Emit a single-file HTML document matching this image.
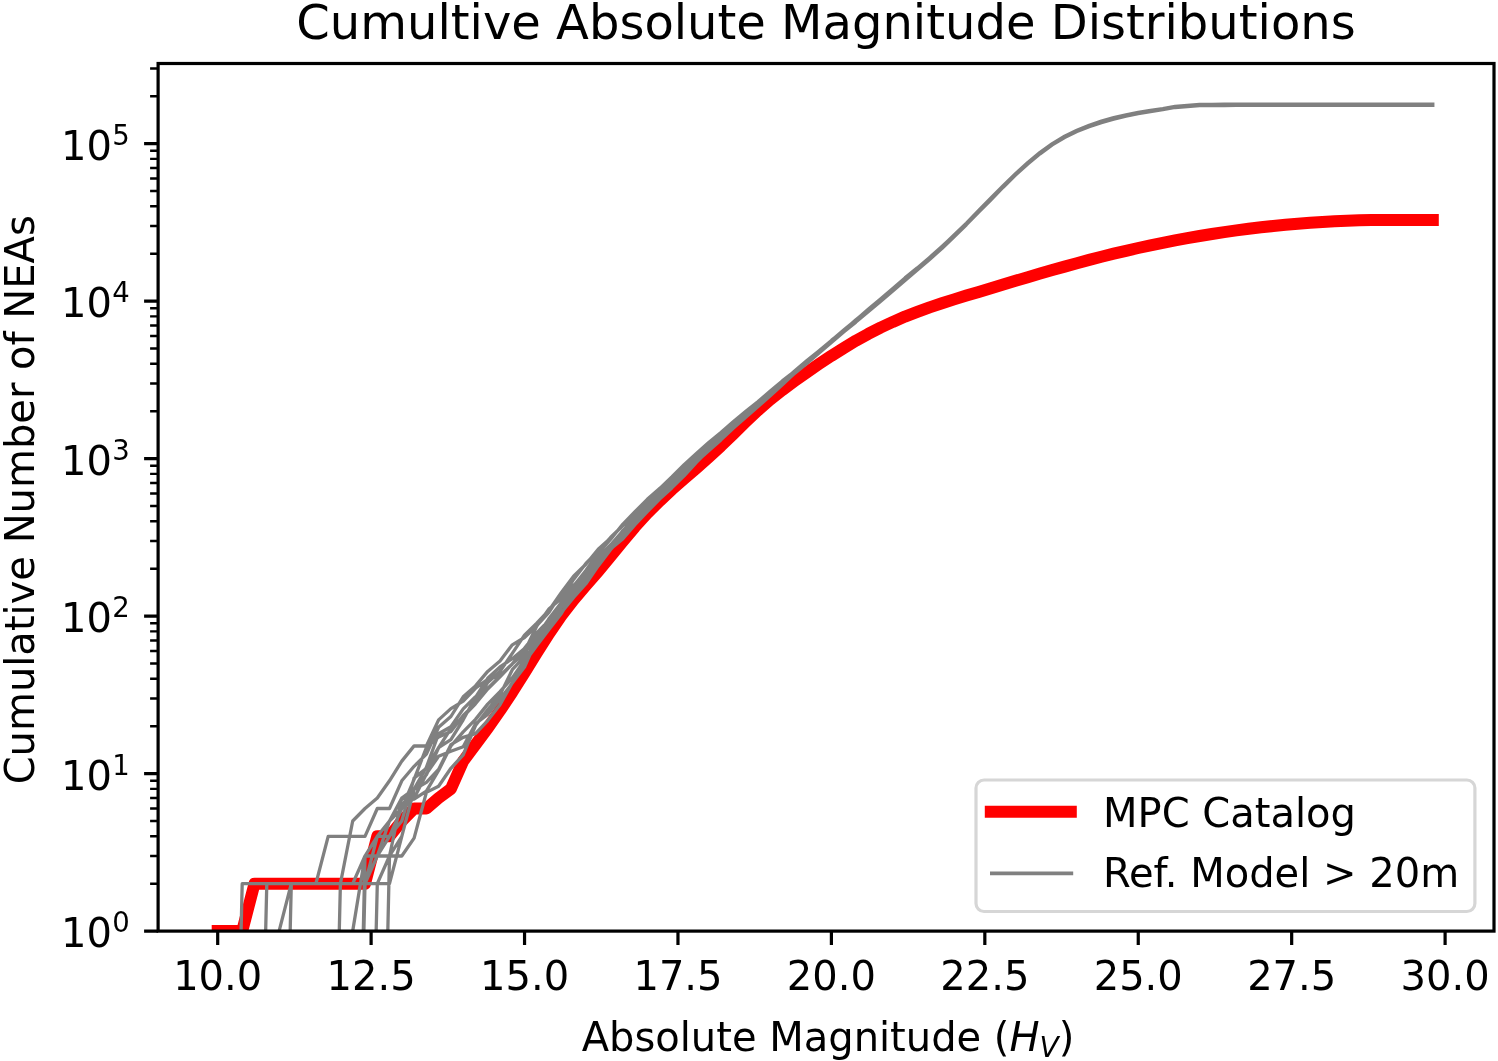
<!DOCTYPE html>
<html><head><meta charset="utf-8"><title>Cumultive Absolute Magnitude Distributions</title>
<style>html,body{margin:0;padding:0;background:#fff;}svg{display:block;}</style>
</head><body>
<svg width="1498" height="1061" viewBox="0 0 1498 1061" font-family="&quot;DejaVu Sans&quot;, &quot;Liberation Sans&quot;, sans-serif"><defs><clipPath id="ax"><rect x="158.1" y="63.5" width="1335.9" height="867.6"/></clipPath></defs>
<g clip-path="url(#ax)"><path d="M217.7 931.1L230.0 931.1L242.2 931.1L254.5 883.7L266.8 883.7L279.1 883.7L291.3 883.7L303.6 883.7L315.9 883.7L328.2 883.7L340.4 883.7L352.7 883.7L365.0 883.7L377.3 836.3L389.5 836.3L401.8 821.0L414.1 808.5L426.4 808.5L438.6 798.0L450.9 788.9L463.2 761.1L475.5 744.7L487.7 728.1L500.0 710.6L512.3 692.1L524.5 672.8L536.8 652.9L549.1 633.5L561.4 615.7L573.6 599.9L585.9 585.4L598.2 571.2L610.5 556.5L622.7 541.4L635.0 526.8L647.3 513.3L659.6 501.0L671.8 489.6L684.1 478.7L696.4 468.1L708.7 457.2L720.9 446.0L733.2 434.1L745.5 422.0L757.8 410.4L770.0 399.8L782.3 390.1L794.6 381.0L806.9 372.3L819.1 363.9L831.4 355.8L843.7 348.1L855.9 340.7L868.2 333.9L880.5 327.6L892.8 321.9L905.0 316.6L917.3 311.9L929.6 307.4L941.9 303.3L954.1 299.4L966.4 295.6L978.7 291.9L991.0 288.2L1003.2 284.5L1015.5 280.8L1027.8 277.2L1040.1 273.6L1052.3 270.0L1064.6 266.6L1076.9 263.2L1089.2 259.9L1101.4 256.7L1113.7 253.7L1126.0 250.8L1138.2 248.0L1150.5 245.3L1162.8 242.8L1175.1 240.4L1187.3 238.1L1199.6 236.0L1211.9 234.0L1224.2 232.1L1236.4 230.4L1248.7 228.8L1261.0 227.3L1273.3 226.0L1285.5 224.8L1297.8 223.7L1310.1 222.8L1322.4 222.0L1334.6 221.3L1346.9 220.7L1359.2 220.3L1371.5 220.1L1383.7 219.9L1396.0 219.9L1408.3 219.9L1420.6 219.9L1432.8 219.9" fill="none" stroke="#f00" stroke-width="12" stroke-linejoin="round" stroke-linecap="square"/>
<path d="M217.7 1400.0L230.0 1400.0L242.2 883.7L254.5 883.7L266.8 883.7L279.1 883.7L291.3 883.7L303.6 883.7L315.9 883.7L328.2 836.3L340.4 836.3L352.7 836.3L365.0 836.3L377.3 808.5L389.5 808.5L401.8 780.8L414.1 766.3L426.4 754.1L438.6 727.3L450.9 716.5L463.2 696.8L475.5 685.9L487.7 671.4L500.0 660.9L512.3 644.8L524.5 637.5L536.8 625.7L549.1 612.1L561.4 593.2L573.6 586.1L585.9 572.8L598.2 560.1L610.5 545.1L622.7 531.0L635.0 517.3L647.3 503.5L659.6 491.6L671.8 477.6L684.1 466.1L696.4 454.9L708.7 443.0L720.9 432.6L733.2 422.2L745.5 412.2L757.8 402.0L770.0 391.5L782.3 381.9L794.6 371.3L806.9 361.0L819.1 351.1L831.4 340.9L843.7 330.6L855.9 320.3L868.2 309.8L880.5 299.2L892.8 289.3L905.0 278.9L917.3 268.9L929.6 258.8L941.9 247.9L954.1 236.4L966.4 224.2L978.7 211.8L991.0 199.3L1003.2 186.8L1015.5 175.0L1027.8 163.7L1040.1 153.4L1052.3 144.6L1064.6 137.3L1076.9 131.2L1089.2 126.3L1101.4 122.2L1113.7 118.8L1126.0 115.8L1138.2 113.3L1150.5 111.3L1162.8 109.5L1175.1 107.3L1187.3 106.2L1199.6 105.5L1211.9 105.2L1224.2 105.2L1236.4 105.1L1248.7 105.1L1261.0 105.1L1273.3 105.1L1285.5 105.1L1297.8 105.1L1310.1 105.1L1322.4 105.1L1334.6 105.1L1346.9 105.1L1359.2 105.1L1371.5 105.1L1383.7 105.1L1396.0 105.1L1408.3 105.1L1420.6 105.1L1432.8 105.1M217.7 1400.0L230.0 1400.0L242.2 1400.0L254.5 1400.0L266.8 883.7L279.1 883.7L291.3 883.7L303.6 883.7L315.9 883.7L328.2 883.7L340.4 883.7L352.7 883.7L365.0 883.7L377.3 836.3L389.5 821.0L401.8 808.5L414.1 779.3L426.4 747.6L438.6 737.0L450.9 731.4L463.2 715.5L475.5 703.5L487.7 682.5L500.0 671.4L512.3 653.4L524.5 635.1L536.8 623.1L549.1 610.1L561.4 592.5L573.6 576.3L585.9 564.3L598.2 549.3L610.5 538.1L622.7 525.7L635.0 514.5L647.3 501.1L659.6 488.6L671.8 478.2L684.1 467.0L696.4 456.1L708.7 445.3L720.9 435.8L733.2 425.8L745.5 414.6L757.8 403.2L770.0 392.8L782.3 382.1L794.6 372.1L806.9 362.1L819.1 351.8L831.4 341.5L843.7 331.4L855.9 321.2L868.2 310.6L880.5 300.4L892.8 290.3L905.0 279.8L917.3 269.8L929.6 259.4L941.9 248.5L954.1 236.8L966.4 224.7L978.7 212.0L991.0 199.5L1003.2 186.7L1015.5 174.9L1027.8 163.7L1040.1 153.4L1052.3 144.5L1064.6 137.1L1076.9 131.0L1089.2 126.1L1101.4 122.1L1113.7 118.8L1126.0 115.8L1138.2 113.2L1150.5 111.1L1162.8 109.4L1175.1 107.2L1187.3 106.2L1199.6 105.4L1211.9 105.2L1224.2 105.2L1236.4 105.1L1248.7 105.1L1261.0 105.1L1273.3 105.1L1285.5 105.1L1297.8 105.1L1310.1 105.1L1322.4 105.1L1334.6 105.1L1346.9 105.1L1359.2 105.1L1371.5 105.1L1383.7 105.1L1396.0 105.1L1408.3 105.1L1420.6 105.1L1432.8 105.1M217.7 1400.0L230.0 1400.0L242.2 1400.0L254.5 1400.0L266.8 1400.0L279.1 931.1L291.3 883.7L303.6 883.7L315.9 883.7L328.2 883.7L340.4 883.7L352.7 883.7L365.0 856.0L377.3 856.0L389.5 836.3L401.8 821.0L414.1 778.1L426.4 768.2L438.6 747.5L450.9 739.7L463.2 719.8L475.5 697.3L487.7 678.3L500.0 666.9L512.3 658.7L524.5 648.6L536.8 636.3L549.1 618.6L561.4 603.5L573.6 586.1L585.9 570.4L598.2 553.2L610.5 539.5L622.7 524.3L635.0 511.7L647.3 499.3L659.6 488.6L671.8 477.0L684.1 464.7L696.4 453.5L708.7 442.6L720.9 432.6L733.2 421.8L745.5 411.6L757.8 401.7L770.0 391.2L782.3 380.9L794.6 371.4L806.9 361.6L819.1 350.9L831.4 341.1L843.7 330.5L855.9 320.4L868.2 310.7L880.5 300.6L892.8 290.0L905.0 279.6L917.3 269.2L929.6 258.7L941.9 247.9L954.1 236.3L966.4 224.3L978.7 211.8L991.0 199.2L1003.2 186.8L1015.5 174.9L1027.8 163.7L1040.1 153.4L1052.3 144.8L1064.6 137.5L1076.9 131.5L1089.2 126.6L1101.4 122.6L1113.7 119.2L1126.0 116.2L1138.2 113.6L1150.5 111.5L1162.8 109.7L1175.1 107.5L1187.3 106.5L1199.6 105.7L1211.9 105.5L1224.2 105.5L1236.4 105.4L1248.7 105.4L1261.0 105.4L1273.3 105.4L1285.5 105.4L1297.8 105.4L1310.1 105.4L1322.4 105.4L1334.6 105.4L1346.9 105.4L1359.2 105.4L1371.5 105.4L1383.7 105.4L1396.0 105.4L1408.3 105.4L1420.6 105.4L1432.8 105.4M217.7 1400.0L230.0 1400.0L242.2 1400.0L254.5 1400.0L266.8 1400.0L279.1 1400.0L291.3 883.7L303.6 883.7L315.9 883.7L328.2 883.7L340.4 883.7L352.7 883.7L365.0 883.7L377.3 856.0L389.5 821.0L401.8 798.0L414.1 799.1L426.4 791.1L438.6 770.5L450.9 746.0L463.2 731.8L475.5 719.4L487.7 704.1L500.0 691.6L512.3 677.9L524.5 660.2L536.8 640.5L549.1 618.4L561.4 602.6L573.6 591.4L585.9 577.9L598.2 565.3L610.5 547.9L622.7 536.3L635.0 521.3L647.3 507.6L659.6 496.9L671.8 485.1L684.1 473.1L696.4 461.7L708.7 450.8L720.9 439.9L733.2 428.2L745.5 417.5L757.8 406.8L770.0 396.0L782.3 384.7L794.6 373.4L806.9 361.2L819.1 350.8L831.4 341.0L843.7 330.5L855.9 319.7L868.2 309.9L880.5 300.1L892.8 289.2L905.0 278.7L917.3 268.3L929.6 257.8L941.9 247.0L954.1 235.6L966.4 223.5L978.7 210.9L991.0 198.3L1003.2 185.8L1015.5 173.8L1027.8 162.5L1040.1 152.4L1052.3 143.6L1064.6 136.3L1076.9 130.3L1089.2 125.4L1101.4 121.4L1113.7 118.1L1126.0 115.1L1138.2 112.6L1150.5 110.5L1162.8 108.7L1175.1 106.5L1187.3 105.6L1199.6 104.8L1211.9 104.6L1224.2 104.5L1236.4 104.5L1248.7 104.5L1261.0 104.5L1273.3 104.5L1285.5 104.5L1297.8 104.5L1310.1 104.5L1322.4 104.5L1334.6 104.5L1346.9 104.5L1359.2 104.5L1371.5 104.5L1383.7 104.5L1396.0 104.5L1408.3 104.5L1420.6 104.5L1432.8 104.5M217.7 1400.0L230.0 1400.0L242.2 1400.0L254.5 1400.0L266.8 1400.0L279.1 1400.0L291.3 1400.0L303.6 1400.0L315.9 1400.0L328.2 1400.0L340.4 883.7L352.7 821.0L365.0 808.5L377.3 798.0L389.5 780.8L401.8 761.1L414.1 745.9L426.4 746.0L438.6 719.9L450.9 708.6L463.2 701.2L475.5 688.3L487.7 679.2L500.0 675.8L512.3 663.9L524.5 651.4L536.8 626.0L549.1 608.7L561.4 598.5L573.6 579.4L585.9 563.4L598.2 551.0L610.5 537.5L622.7 525.7L635.0 516.5L647.3 504.2L659.6 493.6L671.8 481.9L684.1 471.0L696.4 458.6L708.7 447.2L720.9 437.3L733.2 426.1L745.5 415.3L757.8 404.4L770.0 393.1L782.3 382.3L794.6 371.6L806.9 361.5L819.1 350.8L831.4 340.4L843.7 330.5L855.9 320.1L868.2 309.8L880.5 299.5L892.8 289.2L905.0 278.7L917.3 268.4L929.6 257.8L941.9 246.5L954.1 235.2L966.4 223.5L978.7 211.0L991.0 198.4L1003.2 186.1L1015.5 174.1L1027.8 162.9L1040.1 152.9L1052.3 143.8L1064.6 136.5L1076.9 130.3L1089.2 125.4L1101.4 121.4L1113.7 118.0L1126.0 115.1L1138.2 112.6L1150.5 110.5L1162.8 108.7L1175.1 106.5L1187.3 105.5L1199.6 104.8L1211.9 104.5L1224.2 104.5L1236.4 104.4L1248.7 104.4L1261.0 104.4L1273.3 104.4L1285.5 104.4L1297.8 104.4L1310.1 104.4L1322.4 104.4L1334.6 104.4L1346.9 104.4L1359.2 104.4L1371.5 104.4L1383.7 104.4L1396.0 104.4L1408.3 104.4L1420.6 104.4L1432.8 104.4M217.7 1400.0L230.0 1400.0L242.2 1400.0L254.5 1400.0L266.8 1400.0L279.1 1400.0L291.3 1400.0L303.6 1400.0L315.9 1400.0L328.2 1400.0L340.4 1400.0L352.7 931.1L365.0 856.0L377.3 836.3L389.5 836.3L401.8 808.5L414.1 798.2L426.4 773.9L438.6 756.2L450.9 751.3L463.2 746.7L475.5 723.7L487.7 714.5L500.0 699.3L512.3 683.1L524.5 667.1L536.8 639.4L549.1 619.7L561.4 605.6L573.6 590.1L585.9 573.3L598.2 557.5L610.5 544.9L622.7 532.5L635.0 518.8L647.3 506.8L659.6 494.9L671.8 482.4L684.1 470.6L696.4 458.7L708.7 447.7L720.9 437.9L733.2 427.6L745.5 417.2L757.8 406.2L770.0 395.1L782.3 383.2L794.6 373.4L806.9 363.4L819.1 353.0L831.4 342.4L843.7 331.9L855.9 322.1L868.2 311.7L880.5 301.5L892.8 291.0L905.0 280.4L917.3 270.0L929.6 259.4L941.9 248.4L954.1 236.9L966.4 224.7L978.7 212.2L991.0 199.8L1003.2 187.2L1015.5 175.1L1027.8 164.0L1040.1 153.8L1052.3 144.8L1064.6 137.4L1076.9 131.5L1089.2 126.5L1101.4 122.5L1113.7 119.0L1126.0 116.1L1138.2 113.6L1150.5 111.5L1162.8 109.7L1175.1 107.5L1187.3 106.5L1199.6 105.7L1211.9 105.5L1224.2 105.4L1236.4 105.4L1248.7 105.4L1261.0 105.4L1273.3 105.4L1285.5 105.4L1297.8 105.4L1310.1 105.4L1322.4 105.4L1334.6 105.4L1346.9 105.4L1359.2 105.4L1371.5 105.4L1383.7 105.4L1396.0 105.4L1408.3 105.4L1420.6 105.4L1432.8 105.4M217.7 1400.0L230.0 1400.0L242.2 1400.0L254.5 1400.0L266.8 1400.0L279.1 1400.0L291.3 1400.0L303.6 1400.0L315.9 1400.0L328.2 1400.0L340.4 1400.0L352.7 1400.0L365.0 1400.0L377.3 1400.0L389.5 856.0L401.8 836.3L414.1 789.7L426.4 782.4L438.6 769.5L450.9 744.7L463.2 737.4L475.5 733.7L487.7 720.6L500.0 704.8L512.3 682.8L524.5 662.3L536.8 645.5L549.1 625.8L561.4 607.0L573.6 591.6L585.9 575.7L598.2 559.8L610.5 546.8L622.7 530.7L635.0 519.2L647.3 507.0L659.6 495.5L671.8 481.9L684.1 469.5L696.4 457.7L708.7 446.0L720.9 434.9L733.2 424.5L745.5 413.4L757.8 402.9L770.0 392.7L782.3 381.9L794.6 371.0L806.9 360.5L819.1 350.7L831.4 340.4L843.7 330.1L855.9 320.0L868.2 309.3L880.5 298.9L892.8 288.4L905.0 277.9L917.3 267.9L929.6 257.4L941.9 246.6L954.1 235.0L966.4 223.1L978.7 210.5L991.0 197.9L1003.2 185.6L1015.5 173.8L1027.8 162.5L1040.1 152.3L1052.3 143.6L1064.6 136.4L1076.9 130.4L1089.2 125.6L1101.4 121.5L1113.7 118.2L1126.0 115.2L1138.2 112.7L1150.5 110.5L1162.8 108.7L1175.1 106.6L1187.3 105.5L1199.6 104.8L1211.9 104.5L1224.2 104.5L1236.4 104.4L1248.7 104.4L1261.0 104.4L1273.3 104.4L1285.5 104.4L1297.8 104.4L1310.1 104.4L1322.4 104.4L1334.6 104.4L1346.9 104.4L1359.2 104.4L1371.5 104.4L1383.7 104.4L1396.0 104.4L1408.3 104.4L1420.6 104.4L1432.8 104.4M217.7 1400.0L230.0 1400.0L242.2 1400.0L254.5 1400.0L266.8 1400.0L279.1 1400.0L291.3 1400.0L303.6 1400.0L315.9 1400.0L328.2 1400.0L340.4 1400.0L352.7 1400.0L365.0 883.7L377.3 883.7L389.5 856.0L401.8 856.0L414.1 838.1L426.4 792.4L438.6 786.2L450.9 768.3L463.2 754.8L475.5 725.5L487.7 709.7L500.0 694.9L512.3 669.7L524.5 656.6L536.8 645.6L549.1 629.2L561.4 613.5L573.6 593.1L585.9 578.6L598.2 564.7L610.5 549.7L622.7 536.5L635.0 524.5L647.3 511.6L659.6 498.9L671.8 487.9L684.1 475.9L696.4 462.3L708.7 450.1L720.9 438.6L733.2 427.5L745.5 416.2L757.8 405.7L770.0 393.5L782.3 382.5L794.6 371.6L806.9 361.0L819.1 350.9L831.4 340.8L843.7 330.5L855.9 320.0L868.2 309.7L880.5 299.6L892.8 289.4L905.0 279.7L917.3 269.7L929.6 258.9L941.9 248.0L954.1 236.5L966.4 224.3L978.7 211.8L991.0 199.3L1003.2 186.9L1015.5 174.9L1027.8 163.6L1040.1 153.4L1052.3 144.5L1064.6 137.0L1076.9 130.9L1089.2 126.1L1101.4 122.0L1113.7 118.7L1126.0 115.7L1138.2 113.2L1150.5 111.0L1162.8 109.2L1175.1 107.1L1187.3 106.1L1199.6 105.3L1211.9 105.0L1224.2 105.0L1236.4 105.0L1248.7 105.0L1261.0 105.0L1273.3 105.0L1285.5 105.0L1297.8 105.0L1310.1 105.0L1322.4 105.0L1334.6 105.0L1346.9 105.0L1359.2 105.0L1371.5 105.0L1383.7 105.0L1396.0 105.0L1408.3 105.0L1420.6 105.0L1432.8 105.0M217.7 1400.0L230.0 1400.0L242.2 1400.0L254.5 1400.0L266.8 1400.0L279.1 1400.0L291.3 1400.0L303.6 1400.0L315.9 1400.0L328.2 1400.0L340.4 1400.0L352.7 1400.0L365.0 856.0L377.3 856.0L389.5 856.0L401.8 798.0L414.1 789.0L426.4 767.3L438.6 733.8L450.9 726.7L463.2 708.9L475.5 696.8L487.7 688.5L500.0 676.1L512.3 664.1L524.5 648.3L536.8 632.9L549.1 620.2L561.4 603.1L573.6 585.4L585.9 573.1L598.2 562.0L610.5 549.1L622.7 538.9L635.0 524.7L647.3 511.7L659.6 499.0L671.8 486.5L684.1 473.4L696.4 460.5L708.7 448.0L720.9 436.7L733.2 424.9L745.5 414.8L757.8 404.2L770.0 393.5L782.3 383.3L794.6 372.1L806.9 360.9L819.1 350.8L831.4 340.9L843.7 330.7L855.9 320.7L868.2 310.2L880.5 300.0L892.8 289.9L905.0 279.5L917.3 269.3L929.6 258.6L941.9 247.3L954.1 235.9L966.4 223.9L978.7 211.6L991.0 198.8L1003.2 186.2L1015.5 174.2L1027.8 162.9L1040.1 152.6L1052.3 143.6L1064.6 136.2L1076.9 130.2L1089.2 125.2L1101.4 121.1L1113.7 117.7L1126.0 114.9L1138.2 112.4L1150.5 110.3L1162.8 108.6L1175.1 106.4L1187.3 105.3L1199.6 104.5L1211.9 104.3L1224.2 104.2L1236.4 104.2L1248.7 104.2L1261.0 104.2L1273.3 104.2L1285.5 104.2L1297.8 104.2L1310.1 104.2L1322.4 104.2L1334.6 104.2L1346.9 104.2L1359.2 104.2L1371.5 104.2L1383.7 104.2L1396.0 104.2L1408.3 104.2L1420.6 104.2L1432.8 104.2M217.7 1400.0L230.0 1400.0L242.2 1400.0L254.5 1400.0L266.8 1400.0L279.1 1400.0L291.3 1400.0L303.6 1400.0L315.9 1400.0L328.2 1400.0L340.4 1400.0L352.7 1400.0L365.0 1400.0L377.3 883.7L389.5 883.7L401.8 836.3L414.1 789.5L426.4 774.8L438.6 747.7L450.9 728.6L463.2 716.7L475.5 703.8L487.7 689.0L500.0 676.8L512.3 663.8L524.5 652.9L536.8 637.0L549.1 627.1L561.4 612.5L573.6 597.4L585.9 583.7L598.2 565.9L610.5 549.7L622.7 531.6L635.0 519.3L647.3 507.2L659.6 493.9L671.8 483.3L684.1 472.1L696.4 460.7L708.7 448.6L720.9 436.7L733.2 424.7L745.5 413.4L757.8 402.9L770.0 392.4L782.3 382.2L794.6 372.2L806.9 361.1L819.1 350.8L831.4 340.6L843.7 330.4L855.9 320.4L868.2 310.1L880.5 299.7L892.8 289.6L905.0 279.3L917.3 269.2L929.6 258.6L941.9 247.9L954.1 236.3L966.4 224.1L978.7 211.9L991.0 199.0L1003.2 186.5L1015.5 174.7L1027.8 163.3L1040.1 153.2L1052.3 144.3L1064.6 137.0L1076.9 130.9L1089.2 126.0L1101.4 121.9L1113.7 118.5L1126.0 115.5L1138.2 113.1L1150.5 110.9L1162.8 109.2L1175.1 107.0L1187.3 106.0L1199.6 105.2L1211.9 105.0L1224.2 104.9L1236.4 104.9L1248.7 104.9L1261.0 104.9L1273.3 104.9L1285.5 104.9L1297.8 104.9L1310.1 104.9L1322.4 104.9L1334.6 104.9L1346.9 104.9L1359.2 104.9L1371.5 104.9L1383.7 104.9L1396.0 104.9L1408.3 104.9L1420.6 104.9L1432.8 104.9" fill="none" stroke="#808080" stroke-width="3.3" stroke-linejoin="round" stroke-linecap="square"/></g>
<rect x="158.1" y="63.5" width="1335.90" height="867.60" fill="none" stroke="#000" stroke-width="3.2" stroke-linejoin="miter" stroke-linecap="square"/>
<path d="M217.70 931.10v14 M371.12 931.10v14 M524.55 931.10v14 M677.97 931.10v14 M831.40 931.10v14 M984.83 931.10v14 M1138.25 931.10v14 M1291.67 931.10v14 M1445.10 931.10v14" stroke="#000" stroke-width="3.2" fill="none"/>
<path d="M158.10 931.10h-14 M158.10 773.60h-14 M158.10 616.10h-14 M158.10 458.60h-14 M158.10 301.10h-14 M158.10 143.60h-14" stroke="#000" stroke-width="3.2" fill="none"/>
<path d="M158.10 883.69h-8 M158.10 855.95h-8 M158.10 836.28h-8 M158.10 821.01h-8 M158.10 808.54h-8 M158.10 798.00h-8 M158.10 788.86h-8 M158.10 780.81h-8 M158.10 726.19h-8 M158.10 698.45h-8 M158.10 678.78h-8 M158.10 663.51h-8 M158.10 651.04h-8 M158.10 640.50h-8 M158.10 631.36h-8 M158.10 623.31h-8 M158.10 568.69h-8 M158.10 540.95h-8 M158.10 521.28h-8 M158.10 506.01h-8 M158.10 493.54h-8 M158.10 483.00h-8 M158.10 473.86h-8 M158.10 465.81h-8 M158.10 411.19h-8 M158.10 383.45h-8 M158.10 363.78h-8 M158.10 348.51h-8 M158.10 336.04h-8 M158.10 325.50h-8 M158.10 316.36h-8 M158.10 308.31h-8 M158.10 253.69h-8 M158.10 225.95h-8 M158.10 206.28h-8 M158.10 191.01h-8 M158.10 178.54h-8 M158.10 168.00h-8 M158.10 158.86h-8 M158.10 150.81h-8 M158.10 96.19h-8 M158.10 68.45h-8" stroke="#000" stroke-width="2.4" fill="none"/>
<g font-size="40"><text x="217.70" y="990.3" text-anchor="middle">10.0</text><text x="371.12" y="990.3" text-anchor="middle">12.5</text><text x="524.55" y="990.3" text-anchor="middle">15.0</text><text x="677.97" y="990.3" text-anchor="middle">17.5</text><text x="831.40" y="990.3" text-anchor="middle">20.0</text><text x="984.83" y="990.3" text-anchor="middle">22.5</text><text x="1138.25" y="990.3" text-anchor="middle">25.0</text><text x="1291.67" y="990.3" text-anchor="middle">27.5</text><text x="1445.10" y="990.3" text-anchor="middle">30.0</text><text x="112" y="947.30" text-anchor="end">10</text><text x="112.3" y="932.00" font-size="27.5">0</text><text x="112" y="789.80" text-anchor="end">10</text><text x="112.3" y="774.50" font-size="27.5">1</text><text x="112" y="632.30" text-anchor="end">10</text><text x="112.3" y="617.00" font-size="27.5">2</text><text x="112" y="474.80" text-anchor="end">10</text><text x="112.3" y="459.50" font-size="27.5">3</text><text x="112" y="317.30" text-anchor="end">10</text><text x="112.3" y="302.00" font-size="27.5">4</text><text x="112" y="159.80" text-anchor="end">10</text><text x="112.3" y="144.50" font-size="27.5">5</text></g>
<text x="826" y="39.1" text-anchor="middle" font-size="48">Cumultive Absolute Magnitude Distributions</text>
<text x="828" y="1051.2" text-anchor="middle" font-size="40">Absolute Magnitude (<tspan font-style="italic">H</tspan><tspan font-style="italic" font-size="28" dy="6">V</tspan><tspan dy="-6">)</tspan></text>
<text transform="translate(34.3 499.8) rotate(-90)" text-anchor="middle" font-size="40">Cumulative Number of NEAs</text>
<rect x="976" y="780" width="498.9" height="131.5" rx="8" fill="#fff" fill-opacity="0.8" stroke="#d6d6d6" stroke-width="3.2"/>
<path d="M990.8 811.8h80" stroke="#f00" stroke-width="12" stroke-linecap="square"/>
<path d="M991.8 873.4h79.6" stroke="#808080" stroke-width="3.6" stroke-linecap="square"/>
<text x="1103" y="826.6" font-size="40">MPC Catalog</text>
<text x="1103" y="886.8" font-size="40">Ref. Model &gt; 20m</text></svg>
</body></html>
